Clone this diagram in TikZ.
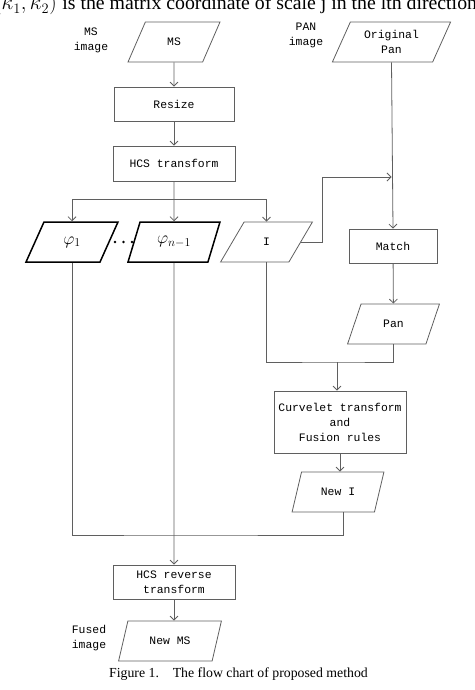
\documentclass[tikz,border=0pt]{standalone}
\usepackage{fontspec}
\setmainfont{Liberation Serif}
\setmonofont{Liberation Mono}
\usetikzlibrary{calc,shapes.geometric,arrows.meta}

\definecolor{linegray}{RGB}{95,95,95}
\newcommand{\boxfont}{\fontsize{11.4}{15}\selectfont\ttfamily}
\newcommand{\capfont}{\fontsize{13.8}{16}\selectfont\rmfamily}
\newcommand{\headfont}{\fontsize{19.8}{22}\selectfont\rmfamily}
\newcommand{\phifont}{\fontsize{17}{18}\selectfont}

\tikzset{
  io/.style={trapezium, trapezium left angle=64, trapezium right angle=116,
    trapezium stretches=true, draw=linegray, line width=0.8pt,
    minimum width=92pt, minimum height=40pt, inner sep=1pt, align=center},
  coef/.style={io, draw=black, line width=1.5pt},
  proc/.style={rectangle, draw=linegray, line width=0.8pt,
    minimum width=120pt, minimum height=34pt, inner sep=1pt, align=center},
  tag/.style={align=center, inner sep=0pt},
  >={Straight Barb[length=4pt,width=8pt]}
}

\begin{document}
\begin{tikzpicture}[x=1pt,y=-1pt,font=\boxfont,line width=0.8pt]
		\useasboundingbox (0,0) rectangle (474,690);
		% cut-off line of the page above the figure
		\node[anchor=base east, inner sep=0pt, font=\headfont] (headk) at (57,10) {$(\kappa_1,\kappa_2)$};
		\node[anchor=base west, inner sep=0pt, font=\headfont] (head) at (62,10) {is the matrix coordinate of scale j in the lth direction};

		% left column
		\node[io] (ms) at (174,42) {MS};
		\node[tag] (mslab) at (91,40) {MS\\image};
		\node[proc] (resize) at (174,104) {Resize};
		\node[proc, minimum width=122pt, minimum height=35pt] (hcs) at (174,163.5) {HCS transform};
		\coordinate (split) at (174,199);

		\node[coef] (phi1) at (72,242) {\phifont$\varphi_1$};
		\node[coef] (phin) at (174,242) {\phifont$\varphi_{n-1}$};
		\foreach \dx in {115,123.5,132}
			\fill (\dx,242) circle (1.4pt);
		\node[io] (ich) at (266.5,242) {I};

		% right column
		\node[io, minimum width=119pt] (opan) at (391.5,42) {Original\\Pan};
		\node[tag] (panlab) at (306,35) {PAN\\image};
		\node[proc, minimum width=88pt] (match) at (393,246) {Match};
		\node[io] (pan) at (393.5,324) {Pan};
		\coordinate (iup) at (322,177);
		\coordinate (mix) at (337,362);

		\node[proc, minimum width=132pt, minimum height=62pt] (curv) at (340,422) {Curvelet transform\\and\\Fusion rules};
		\node[io] (newi) at (338,492) {New I};
		\coordinate (back) at (174,535);

		% bottom
		\node[proc, minimum width=122pt] (hcsr) at (174,582) {HCS reverse\\transform};
		\node[io, minimum width=103pt] (newms) at (170,641) {New MS};
		\node[tag] (fuslab) at (89,638) {Fused\\image};

		\node[anchor=base, inner sep=0pt, font=\capfont] (cap) at (238.5,677) {Figure 1.\quad The flow chart of proposed method};

		% connectors
		\begin{scope}[draw=linegray]
		\draw [->] (ms) -- (resize);
		\draw [->] (resize) -- (hcs);
		\draw [->] (hcs) -- (phin);
		\draw [->] (split) -| (phi1.north);
		\draw [->] (split) -| (ich.north);
		\draw [->] (ich.east) -| (iup) -- (iup -| opan.south);
		\draw [->] (opan.south) -- (match.north);
		\draw [->] (match) -- (pan);
		\draw (ich.south) |- (mix) -| (pan.south);
		\draw [->] (mix) -- (mix |- curv.north);
		\draw [->] (curv.south) -- (curv.south |- newi.north);
		\draw (phi1.south) |- (back) -| (newi.south -| 343,0);
		\draw [->] (phin.south) -- (hcsr.north);
		\draw [->] (hcsr.south) -- (hcsr.south |- newms.north);
		\end{scope}
\end{tikzpicture}
\end{document}
